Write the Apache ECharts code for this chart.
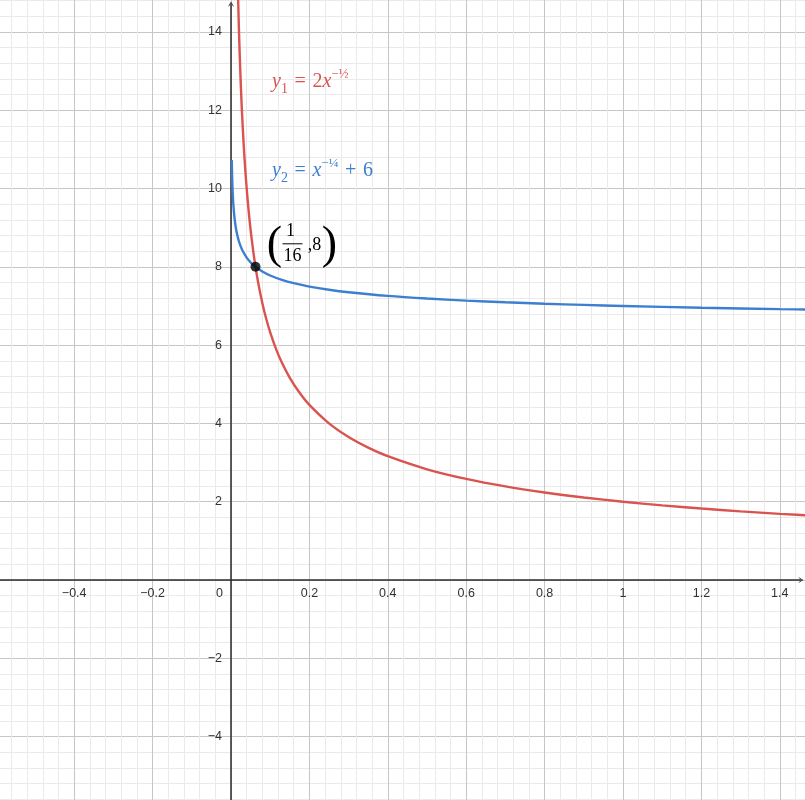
<!DOCTYPE html>
<html><head><meta charset="utf-8">
<script src="https://cdn.jsdelivr.net/npm/echarts@6/dist/echarts.min.js"></script>
<style>html,body{margin:0;padding:0;background:#fff}#c{width:805px;height:800px}</style>
</head><body><div id="c"></div>
<script>
// y1 = 2x^(-1/2)
const redX = [0.018,0.02,0.022,0.025,0.028,0.032,0.036,0.04,0.045,0.05,0.056,0.0625,0.07,0.08,0.09,0.1,0.115,0.13,0.15,0.175,0.2,0.25,0.3,0.35,0.4,0.5,0.6,0.7,0.8,0.9,1.0,1.1,1.2,1.3,1.4,1.5];
const redY = [14.907,14.142,13.484,12.649,11.952,11.180,10.541,10,9.428,8.944,8.452,8,7.559,7.071,6.667,6.325,5.898,5.547,5.164,4.781,4.472,4,3.651,3.381,3.162,2.828,2.582,2.390,2.236,2.108,2,1.907,1.826,1.754,1.690,1.633];
// y2 = x^(-1/4) + 6
const blueX = [0.002,0.0025,0.003,0.004,0.005,0.006,0.008,0.01,0.013,0.016,0.02,0.025,0.03,0.04,0.05,0.0625,0.08,0.1,0.13,0.16,0.2,0.25,0.3,0.4,0.5,0.6,0.7,0.8,0.9,1.0,1.2,1.4,1.5];
const blueY = [10.729,10.472,10.273,9.976,9.761,9.593,9.344,9.162,8.961,8.812,8.659,8.515,8.403,8.236,8.115,8,7.880,7.778,7.665,7.581,7.495,7.414,7.351,7.257,7.189,7.136,7.093,7.057,7.027,7,6.955,6.919,6.904];
const pointX = [0.0625];
const pointY = [8];
const xTickValues = [-0.4,-0.2,0,0.2,0.4,0.6,0.8,1,1.2,1.4];
const yTickValues = [-4,-2,2,4,6,8,10,12,14];

const RED = '#d9534f', BLUE = '#3c7fd1';
const zip = (a, b) => a.map((v, i) => [v, b[i]]);
const minus = s => String(s).replace('-', '\u2212');
const near = (arr, v) => arr.some(t => Math.abs(t - v) < 1e-6);

const chart = echarts.init(document.getElementById('c'));
const labelStyle = { color: '#333', fontFamily: 'Liberation Sans', fontSize: 12.5 };
const arrowPath = 'path://M0,10 L6,0 L12,10 L10.6,10.8 L6,3 L1.4,10.8 Z';
const hidden = { axisLine: { show: false }, axisTick: { show: false }, axisLabel: { show: false }, splitLine: { show: false } };
const axisLineStyle = { color: '#2b2b2b', width: 1.5 };

chart.setOption({
  animation: false,
  backgroundColor: '#fff',
  grid: [
    { left: -4.2, right: -53.2, top: -46.4, bottom: -14.9, outerBoundsMode: 'none', containLabel: false },
    { left: -4.2, right: 4, top: 4, bottom: 220, outerBoundsMode: 'none', containLabel: false },
    { left: 231, right: 4, top: 4, bottom: -14.9, outerBoundsMode: 'none', containLabel: false }
  ],
  xAxis: [
    { type: 'value', gridIndex: 0, min: -0.6, max: 1.6, interval: 0.2,
      axisLine: { show: false }, axisTick: { show: false }, axisLabel: { show: false },
      splitLine: { show: true, lineStyle: { color: '#c6c6c6', width: 1 } },
      minorTick: { show: false, splitNumber: 5 },
      minorSplitLine: { show: true, lineStyle: { color: '#eaeaea', width: 1 } } },
    { type: 'value', gridIndex: 1, position: 'bottom', min: -0.6, max: 1.4541, interval: 0.2,
      axisLine: { show: true, onZero: false, symbol: ['none', arrowPath], symbolSize: [8, 5], lineStyle: axisLineStyle },
      axisTick: { show: false }, splitLine: { show: false },
      axisLabel: Object.assign({}, labelStyle, { margin: 7, showMinLabel: false,
        formatter: v => { const r = +(+v).toFixed(2); if (!near(xTickValues, r)) return '';
          return r === 0 ? '{z|0}' : minus(r); },
        rich: { z: Object.assign({}, labelStyle, { padding: [0, 23, 0, 0] }) } }) },
    Object.assign({ type: 'value', gridIndex: 2, min: 0, max: 1.4541 }, hidden)
  ],
  yAxis: [
    { type: 'value', gridIndex: 0, min: -6, max: 16, interval: 2,
      axisLine: { show: false }, axisTick: { show: false }, axisLabel: { show: false },
      splitLine: { show: true, lineStyle: { color: '#c6c6c6', width: 1 } },
      minorTick: { show: false, splitNumber: 5 },
      minorSplitLine: { show: true, lineStyle: { color: '#eaeaea', width: 1 } } },
    Object.assign({ type: 'value', gridIndex: 1, min: 0, max: 14.7126 }, hidden),
    { type: 'value', gridIndex: 2, position: 'left', min: -6, max: 14.7126, interval: 2,
      axisLine: { show: true, onZero: false, symbol: ['none', arrowPath], symbolSize: [8, 5], lineStyle: axisLineStyle },
      axisTick: { show: false }, splitLine: { show: false },
      axisLabel: Object.assign({}, labelStyle, { margin: 9,
        formatter: v => { const r = +(+v).toFixed(2); return near(yTickValues, r) ? minus(r) : ''; } }) }
  ],
  series: [
    { type: 'line', xAxisIndex: 0, yAxisIndex: 0, data: zip(redX, redY), showSymbol: false,
      smooth: 0.3, lineStyle: { color: RED, width: 2.4 }, z: 3 },
    { type: 'line', xAxisIndex: 0, yAxisIndex: 0, data: zip(blueX, blueY), showSymbol: false,
      smooth: 0.3, lineStyle: { color: BLUE, width: 2.4 }, z: 3 },
    { type: 'scatter', xAxisIndex: 0, yAxisIndex: 0, data: zip(pointX, pointY), symbolSize: 10,
      itemStyle: { color: '#000' }, z: 5 }
  ]
});

const [px, py] = chart.convertToPixel({ gridIndex: 0 }, [pointX[0], pointY[0]]);
const serif = 'Liberation Serif';
const eqRich = c => ({
  i: { fontFamily: serif, fontStyle: 'italic', fontSize: 20, lineHeight: 28, fill: c },
  t: { fontFamily: serif, fontSize: 20, lineHeight: 28, fill: c },
  sub: { fontFamily: serif, fontSize: 14, lineHeight: 14, verticalAlign: 'bottom', fill: c },
  sup: { fontFamily: serif, fontSize: 13, lineHeight: 13, verticalAlign: 'top', fill: c }
});
const txt = (x, y, s, size, extra) => ({ type: 'text', x: x, y: y, z: 10,
  style: Object.assign({ text: s, fontFamily: serif, fontSize: size, fill: '#000',
    align: 'center', verticalAlign: 'middle' }, extra || {}) });
const sp = '\u2004';

chart.setOption({
  graphic: [
    { type: 'text', left: 272, top: 68, z: 10, style: { text: '{i|y}{sub|1}{t|' + sp + '=' + sp + '2}{i|x}{sup|\u2212\u00bd}', fill: RED, rich: eqRich(RED) } },
    { type: 'text', left: 272, top: 157, z: 10, style: { text: '{i|y}{sub|2}{t|' + sp + '=' + sp + '}{i|x}{sup|\u2212\u00bc}{t|' + sp + '+' + sp + '6}', fill: BLUE, rich: eqRich(BLUE) } },
    txt(px + 19, py - 21, '(', 46),
    txt(px + 35, py - 36, '1', 18),
    { type: 'rect', z: 10, shape: { x: px + 27, y: py - 23.5, width: 20, height: 1 }, style: { fill: '#000' } },
    txt(px + 37, py - 11, '16', 18),
    txt(px + 59, py - 22, ',8', 18),
    txt(px + 74, py - 21, ')', 46)
  ]
});
</script></body></html>
